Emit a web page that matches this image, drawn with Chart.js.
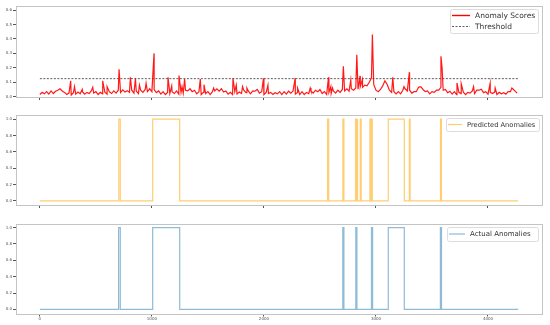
<!DOCTYPE html>
<html>
<head>
<meta charset="utf-8">
<script src="https://cdn.jsdelivr.net/npm/chart.js@4/dist/chart.umd.min.js"></script>
<style>
  body { margin: 0; background: #fff; }
  #wrap { position: relative; width: 550px; height: 325px; }
  canvas { position: absolute; left: 0; }
</style>
</head>
<body>
<div id="wrap">
  <canvas id="c1" width="550" height="102" style="top:0px"></canvas>
  <canvas id="c2" width="550" height="101" style="top:109px"></canvas>
  <canvas id="c3" width="550" height="108" style="top:217px"></canvas>
</div>
<script>
// sample index ticks shared by all panels
const xTicks = [0, 1000, 2000, 3000, 4000];
const scoreTicks = [0, 0.1, 0.2, 0.3, 0.4, 0.5, 0.6];
const flagTicks = [0, 0.2, 0.4, 0.6, 0.8, 1.0];
const lastSample = 4269;
const threshold = 0.125;

// anomaly score base level, one value every 20 samples (0 .. 4260)
const scoreStep = 20;
const baseScores = [
  0.015, 0.03, 0.02, 0.035, 0.018, 0.04, 0.022, 0.038, 0.045, 0.055, 0.04, 0.03, 0.015, 0.025, 0.012, 0.028, 0.018, 0.032, 0.02, 0.035,
  0.018, 0.03, 0.022, 0.042, 0.025, 0.035, 0.015, 0.03, 0.02, 0.032, 0.018, 0.035, 0.022, 0.04, 0.025, 0.045, 0.03, 0.048, 0.032, 0.042,
  0.03, 0.045, 0.025, 0.04, 0.022, 0.045, 0.03, 0.05, 0.035, 0.055, 0.035, 0.05, 0.028, 0.04, 0.018, 0.035, 0.015, 0.03, 0.022, 0.035,
  0.022, 0.04, 0.018, 0.03, 0.025, 0.045, 0.04, 0.055, 0.035, 0.045, 0.02, 0.035, 0.015, 0.03, 0.022, 0.035, 0.015, 0.035, 0.04, 0.055,
  0.038, 0.055, 0.032, 0.04, 0.018, 0.03, 0.015, 0.035, 0.018, 0.032, 0.022, 0.045, 0.028, 0.04, 0.02, 0.04, 0.038, 0.05, 0.025, 0.035,
  0.015, 0.03, 0.022, 0.03, 0.015, 0.028, 0.02, 0.035, 0.015, 0.035, 0.018, 0.038, 0.025, 0.04, 0.018, 0.03, 0.015, 0.035, 0.015, 0.03,
  0.022, 0.04, 0.025, 0.045, 0.035, 0.05, 0.022, 0.035, 0.015, 0.03, 0.022, 0.04, 0.025, 0.045, 0.03, 0.05, 0.04, 0.055, 0.038, 0.055,
  0.045, 0.06, 0.052, 0.07, 0.065, 0.08, 0.075, 0.1, 0.13, 0.085, 0.045, 0.035, 0.05, 0.075, 0.11, 0.085, 0.045, 0.03, 0.035, 0.02,
  0.035, 0.02, 0.045, 0.055, 0.04, 0.045, 0.025, 0.035, 0.035, 0.065, 0.07, 0.05, 0.035, 0.04, 0.02, 0.035, 0.03, 0.045, 0.045, 0.065,
  0.045, 0.05, 0.028, 0.038, 0.018, 0.035, 0.015, 0.03, 0.022, 0.032, 0.015, 0.03, 0.025, 0.04, 0.022, 0.045, 0.045, 0.052, 0.028, 0.035,
  0.018, 0.03, 0.022, 0.032, 0.015, 0.03, 0.02, 0.028, 0.018, 0.035, 0.035, 0.055, 0.04, 0.025
];

// narrow score spikes: [sample, score]
const scoreSpikes = [
  [275, 0.11], [309, 0.07], [378, 0.05], [472, 0.065], [561, 0.11], [600, 0.07], [707, 0.19],
  [808, 0.135], [853, 0.128], [889, 0.08], [948, 0.093], [1019, 0.30], [1144, 0.135], [1177, 0.075],
  [1242, 0.146], [1269, 0.07], [1292, 0.123], [1432, 0.123], [1465, 0.083], [1551, 0.06],
  [1724, 0.128], [1753, 0.08], [1809, 0.07], [1848, 0.06], [1996, 0.128], [2036, 0.08],
  [2279, 0.128], [2300, 0.06], [2413, 0.06], [2576, 0.135], [2597, 0.07], [2612, 0.06],
  [2709, 0.21], [2775, 0.116], [2829, 0.29], [2858, 0.144], [2879, 0.12], [2968, 0.43],
  [3150, 0.135], [3250, 0.07], [3298, 0.17], [3580, 0.28], [3590, 0.2], [3723, 0.095],
  [3761, 0.09], [3871, 0.07], [4019, 0.093], [4064, 0.06], [4213, 0.06]
];

// flagged intervals [start, end] in samples
const predictedRanges = [
  [705, 718], [1007, 1248], [2568, 2578], [2705, 2714], [2818, 2826], [2831, 2838],
  [2860, 2868], [2946, 2953], [2959, 2967], [3110, 3253], [3298, 3305], [3576, 3584]
];
const actualRanges = [
  [703, 718], [1007, 1248], [2704, 2714], [2820, 2830], [2960, 2970], [3110, 3253], [3575, 3585]
];

function scorePoints() {
  const pts = baseScores.map((v, i) => ({ x: i * scoreStep, y: v }));
  scoreSpikes.forEach(s => pts.push({ x: s[0], y: s[1] }));
  return pts.sort((a, b) => a.x - b.x);
}

function flagPoints(ranges) {
  const pts = [{ x: 0, y: 0 }];
  ranges.forEach(r => {
    pts.push({ x: r[0], y: 0 }, { x: r[0], y: 1 }, { x: r[1], y: 1 }, { x: r[1], y: 0 });
  });
  pts.push({ x: lastSample, y: 0 });
  return pts;
}

const FONT = "'DejaVu Sans', sans-serif";
const RED = 'rgba(255,0,0,0.9)';
const ORANGE = 'rgba(255,165,0,0.55)';
const BLUE = 'rgba(31,119,180,0.5)';

// legend boxes, keyed by canvas id
const legendCfg = {
  c1: {
    box: { x: 450, y: 9, w: 88, h: 24 },
    fontSize: 7.5, lineX: [452, 470], textX: 475, rows: [15.5, 26.5],
    items: [
      { label: 'Anomaly Scores', color: '#ff0000', width: 1.4, dash: null },
      { label: 'Threshold', color: '#333', width: 0.8, dash: [2, 1.5] }
    ]
  },
  c2: {
    box: { x: 446, y: 9, w: 93, h: 13 },
    fontSize: 6.7, lineX: [448, 462], textX: 467, rows: [15.5],
    items: [{ label: 'Predicted Anomalies', color: ORANGE, width: 1.2, dash: null }]
  },
  c3: {
    box: { x: 447, y: 10, w: 91, h: 14 },
    fontSize: 7, lineX: [449, 465], textX: 470, rows: [17],
    items: [{ label: 'Actual Anomalies', color: BLUE, width: 1.2, dash: null }]
  }
};

// matplotlib style frame + legend box in the upper right
const boxLegend = {
  id: 'boxLegend',
  afterDraw(chart) {
    const cfg = legendCfg[chart.canvas.id];
    const ctx = chart.ctx;
    const a = chart.chartArea;
    ctx.save();
    ctx.strokeStyle = '#c4c4c4';
    ctx.lineWidth = 1;
    ctx.strokeRect(Math.round(a.left) + 0.5, Math.round(a.top) + 0.5,
      Math.round(a.right - a.left), Math.round(a.bottom - a.top));

    const b = cfg.box;
    ctx.fillStyle = 'rgba(255,255,255,0.85)';
    ctx.strokeStyle = '#dcdcdc';
    ctx.beginPath();
    ctx.roundRect(b.x + 0.5, b.y + 0.5, b.w, b.h, 2);
    ctx.fill();
    ctx.stroke();

    ctx.font = cfg.fontSize + 'px ' + FONT;
    ctx.textBaseline = 'middle';
    cfg.items.forEach((it, i) => {
      const y = cfg.rows[i];
      if (it.dash) {
        ctx.strokeStyle = it.color;
        ctx.lineWidth = it.width;
        ctx.setLineDash(it.dash);
        ctx.beginPath();
        ctx.moveTo(cfg.lineX[0], y);
        ctx.lineTo(cfg.lineX[1], y);
        ctx.stroke();
        ctx.setLineDash([]);
      } else {
        ctx.fillStyle = it.color;
        ctx.fillRect(cfg.lineX[0], y - it.width / 2, cfg.lineX[1] - cfg.lineX[0], it.width);
      }
      ctx.fillStyle = '#333';
      ctx.fillText(it.label, cfg.textX, y + 0.5);
    });
    ctx.restore();
  }
};

function makeScales(yMin, yMax, yTicks, xHeight, showX) {
  const tickFont = { family: FONT, size: 4 };
  return {
    x: {
      type: 'linear', min: -213, max: 4482,
      afterBuildTicks: s => { s.ticks = xTicks.map(v => ({ value: v })); },
      afterFit: s => { s.height = xHeight; },
      border: { display: false },
      grid: { drawOnChartArea: false, drawTicks: true, tickLength: 3, color: '#555' },
      ticks: { display: showX, font: tickFont, color: '#555', padding: 0, maxRotation: 0,
        callback: v => String(v) }
    },
    y: {
      type: 'linear', min: yMin, max: yMax,
      afterBuildTicks: s => { s.ticks = yTicks.map(v => ({ value: v })); },
      afterFit: s => { s.width = 16; },
      border: { display: false },
      grid: { drawOnChartArea: false, drawTicks: true, tickLength: 3, color: '#555' },
      ticks: { font: tickFont, color: '#555', padding: 1, callback: v => v.toFixed(1) }
    }
  };
}

function baseOptions(scales, padTop) {
  return {
    responsive: false,
    animation: false,
    parsing: false,
    normalized: true,
    layout: { padding: { top: padTop, right: 8, left: 0, bottom: 0 } },
    elements: { point: { radius: 0 }, line: { tension: 0 } },
    plugins: { legend: { display: false }, tooltip: { enabled: false } },
    scales: scales
  };
}

new Chart(document.getElementById('c1'), {
  type: 'line',
  data: {
    datasets: [
      { label: 'Anomaly Scores', data: scorePoints(), borderColor: RED, borderWidth: 1.2 },
      { label: 'Threshold', data: [{ x: 0, y: threshold }, { x: lastSample, y: threshold }],
        borderColor: '#333', borderWidth: 0.8, borderDash: [2, 1.5] }
    ]
  },
  options: baseOptions(makeScales(-0.002, 0.628, scoreTicks, 5, false), 6),
  plugins: [boxLegend]
});

new Chart(document.getElementById('c2'), {
  type: 'line',
  data: {
    datasets: [
      { label: 'Predicted Anomalies', data: flagPoints(predictedRanges), borderColor: ORANGE, borderWidth: 1.2 }
    ]
  },
  options: baseOptions(makeScales(-0.05, 1.05, flagTicks, 5, false), 6),
  plugins: [boxLegend]
});

new Chart(document.getElementById('c3'), {
  type: 'line',
  data: {
    datasets: [
      { label: 'Actual Anomalies', data: flagPoints(actualRanges), borderColor: BLUE, borderWidth: 1.2 }
    ]
  },
  options: baseOptions(makeScales(-0.05, 1.05, flagTicks, 11.5, true), 6.5),
  plugins: [boxLegend]
});
</script>
</body>
</html>
